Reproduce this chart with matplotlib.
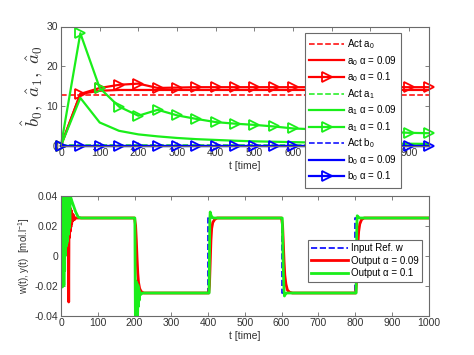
import matplotlib
matplotlib.use("Agg")
import matplotlib.pyplot as plt

plt.rcParams["font.family"] = ["Liberation Sans", "DejaVu Sans"]
plt.rcParams["axes.unicode_minus"] = False
plt.rcParams["mathtext.fontset"] = "custom"
plt.rcParams["mathtext.rm"] = "Liberation Sans"
plt.rcParams["mathtext.it"] = "Liberation Sans:italic"
plt.rcParams["mathtext.bf"] = "Liberation Sans:bold"

RED = "#ff0000"
GREEN = "#1aee1a"
BLUE = "#0000ff"
AXC = "#6a6a6a"
TXC = "#333333"

# ---- top panel: parameter estimates, sampled every 50 time units ----
t_est = [0, 50, 100, 150, 200, 250, 300, 350, 400, 450,
         500, 550, 600, 650, 700, 750, 800, 850, 900, 950]
act_t = [0, 950]
act_a0 = [12.7, 12.7]
act_a1 = [0.2, 0.2]
act_b0 = [0.0, 0.0]
a0_009 = [0, 13.0, 13.8, 14.0, 14.0, 14.0, 14.0, 14.0, 14.0, 14.0,
          14.0, 14.0, 14.0, 14.0, 14.0, 14.0, 14.0, 14.0, 14.0, 14.0]
a0_01 = [0, 13.0, 14.5, 15.3, 15.6, 14.5, 14.6, 14.7, 14.7, 14.7,
         14.7, 14.7, 14.7, 14.7, 14.7, 14.7, 14.7, 14.7, 14.7, 14.7]
a1_009 = [0, 12.0, 5.8, 3.7, 2.8, 2.3, 1.9, 1.6, 1.4, 1.2,
          1.05, 0.95, 0.85, 0.75, 0.7, 0.6, 0.55, 0.5, 0.45, 0.4]
a1_01 = [0, 28.3, 14.5, 9.8, 7.5, 9.0, 7.6, 6.7, 5.9, 5.5,
         5.2, 4.8, 4.3, 4.1, 3.9, 3.7, 3.5, 3.4, 3.2, 3.1]
b0_009 = [0.0] * 20
b0_01 = [0.0] * 20

# ---- bottom panel: reference and outputs ----
w_t = [0, 200, 200, 400, 400, 600, 600, 800, 800, 1000]
w_y = [0.025, 0.025, -0.025, -0.025, 0.025, 0.025, -0.025, -0.025, 0.025, 0.025]

red_t = [0, 3, 6, 8, 10, 12, 13, 14, 15, 16, 17, 18, 19, 20, 21, 22, 23, 24, 25,
         26, 27, 28, 29, 30, 32, 34, 37, 40,
         200, 203, 205, 207, 209, 211, 214, 218, 225,
         402, 404, 406, 408, 410, 413, 418, 425,
         600, 603, 605, 607, 609, 612, 616, 622, 630,
         802, 804, 806, 808, 810, 813, 818, 825, 1000]
red_y = [0.0, 0.02, 0.01, 0.03, 0.012, 0.033, 0.005, 0.032, 0.008, 0.033, 0.01,
         0.034, 0.0, 0.034, -0.031, 0.034, 0.012, 0.032, 0.016, 0.031, 0.019,
         0.03, 0.021, 0.028, 0.023, 0.027, 0.024, 0.025,
         0.025, 0.02, 0.01, -0.002, -0.012, -0.018, -0.022, -0.024, -0.025,
         -0.025, -0.02, -0.005, 0.01, 0.018, 0.022, 0.024, 0.025,
         0.025, 0.02, 0.008, -0.004, -0.013, -0.019, -0.023, -0.0245, -0.025,
         -0.025, -0.018, -0.004, 0.008, 0.016, 0.021, 0.024, 0.025, 0.025]

green_t = [0, 1, 2, 3, 4, 5, 6, 7, 8, 9, 10, 11, 12, 13, 14, 15, 16, 17, 18,
           19, 20, 21, 22, 23, 24, 25, 30, 40, 47, 55,
           201, 202.5, 203.5, 204.5, 205.5, 206.5, 207.5, 208.5, 209.5, 210.5,
           211.5, 212.5, 214, 217, 222,
           403, 405, 406, 408, 411, 416,
           602, 605, 607, 608, 610, 614,
           803, 805, 806, 808, 812, 1000]
green_y = [0.0, 0.05, 0.0, 0.05, -0.021, 0.05, -0.015, 0.05, -0.02, 0.05,
           -0.01, 0.05, 0.0, 0.05, 0.006, 0.05, 0.008, 0.05, 0.01, 0.05,
           0.014, 0.05, 0.018, 0.045, 0.022, 0.04, 0.036, 0.029, 0.0255, 0.025,
           0.025, -0.045, -0.017, -0.045, -0.018, -0.045, -0.019, -0.04, -0.02,
           -0.034, -0.022, -0.03, -0.024, -0.026, -0.025,
           -0.025, 0.024, 0.029, 0.027, 0.0255, 0.025,
           0.025, -0.01, -0.024, -0.027, -0.026, -0.025,
           -0.025, 0.02, 0.0265, 0.026, 0.025, 0.025]


def style_axes(ax):
    for s in ax.spines.values():
        s.set_color(AXC)
        s.set_linewidth(0.8)
    ax.tick_params(direction="in", top=True, right=True, length=3,
                   width=0.6, colors=AXC, labelcolor=TXC, labelsize=7.5, pad=2)


fig = plt.figure(figsize=(4.74, 3.55), dpi=100)
ax1 = fig.add_axes([61 / 474, 1 - 145.5 / 355, 367.5 / 474, 119 / 355])
ax2 = fig.add_axes([61 / 474, 1 - 315.5 / 355, 367.5 / 474, 120 / 355])
ax1.set_zorder(3)  # keep the tall legend above the lower panel

mk = dict(marker=">", markersize=6.5, markerfacecolor="none", markeredgewidth=1.3,
          clip_on=False)
ax1.plot(act_t, act_a0, "--", color=RED, lw=1.1, label="Act a$_0$")
ax1.plot(t_est, a0_009, "-", color=RED, lw=1.6, label="a$_0$ α = 0.09")
ax1.plot(t_est, a0_01, "-", color=RED, lw=1.6, label="a$_0$ α = 0.1", **mk)
ax1.plot(act_t, act_a1, "--", color=GREEN, lw=1.1, label="Act a$_1$")
ax1.plot(t_est, a1_009, "-", color=GREEN, lw=1.6, label="a$_1$ α = 0.09")
ax1.plot(t_est, a1_01, "-", color=GREEN, lw=1.6, label="a$_1$ α = 0.1", **mk)
ax1.plot(act_t, act_b0, "--", color=BLUE, lw=1.1, label="Act b$_0$", clip_on=False)
ax1.plot(t_est, b0_009, "-", color=BLUE, lw=1.6, label="b$_0$ α = 0.09", clip_on=False)
ax1.plot(t_est, b0_01, "-", color=BLUE, lw=1.6, label="b$_0$ α = 0.1", **mk)

ax1.set_xlim(0, 950)
ax1.set_ylim(0, 30)
ax1.set_xticks([0, 100, 200, 300, 400, 500, 600, 700, 800, 900])
ax1.set_yticks([0, 10, 20, 30])
style_axes(ax1)
ax1.set_xlabel("t [time]", fontsize=7.5, color=TXC, labelpad=2)
ax1.set_ylabel(r"$\hat{b}_0,\ \hat{a}_1,\ \hat{a}_0$", fontsize=13.5,
               math_fontfamily="cm", color=TXC, labelpad=1)
leg1 = ax1.legend(loc="upper left", bbox_to_anchor=(305 / 474, 1 - 33 / 355),
                  bbox_transform=fig.transFigure, fontsize=7, handlelength=3.6,
                  labelspacing=0.28, handletextpad=0.3, borderpad=0.45,
                  fancybox=False, framealpha=1, edgecolor=AXC,
                  borderaxespad=0)
leg1.get_frame().set_linewidth(0.8)

ax2.plot(w_t, w_y, "--", color=BLUE, lw=1.2, label="Input Ref. w")
ax2.plot(red_t, red_y, "-", color=RED, lw=2.0, label="Output α = 0.09")
ax2.plot(green_t, green_y, "-", color=GREEN, lw=2.0, label="Output α = 0.1")
ax2.set_xlim(0, 1000)
ax2.set_ylim(-0.04, 0.04)
ax2.set_xticks([0, 100, 200, 300, 400, 500, 600, 700, 800, 900, 1000])
ax2.set_yticks([-0.04, -0.02, 0, 0.02, 0.04])
ax2.set_yticklabels(["-0.04", "-0.02", "0", "0.02", "0.04"])
style_axes(ax2)
ax2.set_xlabel("t [time]", fontsize=7.5, color=TXC, labelpad=2)
ax2.set_ylabel("w(t), y(t)  [mol.l$^{-1}$]", fontsize=7, color=TXC, labelpad=2)
leg2 = ax2.legend(loc="upper left", bbox_to_anchor=(308 / 474, 1 - 240 / 355),
                  bbox_transform=fig.transFigure, fontsize=7, handlelength=3.8,
                  labelspacing=0.25, handletextpad=0.3, borderpad=0.35,
                  fancybox=False, framealpha=1, edgecolor=AXC, borderaxespad=0)
leg2.get_frame().set_linewidth(0.8)

fig.savefig("out.png", dpi=100)
